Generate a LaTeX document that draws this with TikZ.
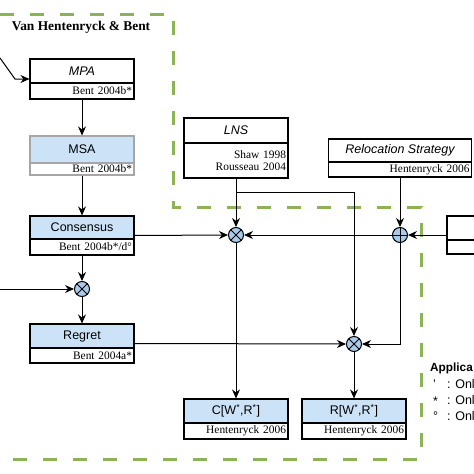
\documentclass[tikz,border=0pt]{standalone}
\usepackage{fontspec}
\setmainfont{Liberation Serif}
\setsansfont{Liberation Sans}
\usetikzlibrary{arrows.meta,calc}
\definecolor{grn}{RGB}{140,180,86}
\definecolor{lblue}{RGB}{204,227,247}
\definecolor{cblue}{RGB}{168,203,236}
\tikzset{
  boxtop/.style={draw, line width=1.1pt, inner sep=0pt, minimum width=104pt,
    font=\sffamily\fontsize{12.5}{14}\selectfont},
  bluetop/.style={boxtop, fill=lblue},
  boxbot/.style={draw, line width=1.1pt, inner sep=0pt, minimum width=104pt,
    text width=100pt, align=right, font=\fontsize{11.4}{13}\selectfont},
  grouper/.style={inner sep=0pt, minimum width=104pt},
  conn/.style={line width=1pt, -{Stealth[length=9pt,width=8pt]}},
  mul/.style={circle, draw, line width=1pt, fill=cblue, minimum size=15pt, inner sep=0pt,
    path picture={\draw[line width=0.9pt] (path picture bounding box.south west) -- (path picture bounding box.north east)
      (path picture bounding box.north west) -- (path picture bounding box.south east);}},
  add/.style={circle, draw, line width=1pt, fill=cblue, minimum size=15pt, inner sep=0pt,
    path picture={\draw[line width=0.9pt] (path picture bounding box.south) -- (path picture bounding box.north)
      (path picture bounding box.west) -- (path picture bounding box.east);}},
  region/.style={draw=grn, line width=3pt, dash pattern=on 14pt off 16pt},
  legend/.style={anchor=west, inner sep=0pt, font=\sffamily\fontsize{12.5}{14}\selectfont},
}
\begin{document}
\begin{tikzpicture}[x=1pt,y=-1pt]
\clip (0,0) rectangle (474,474);
\fill[white] (0,0) rectangle (474,474);

% green dashed region
\draw[region] (0,14) -- (173,14) -- (173,207) -- (421,207) -- (421,459) -- (0,459);
\node[font=\bfseries\fontsize{13.4}{15}\selectfont, inner sep=0pt] (title) at (81,27) {Van Hentenryck \& Bent};

% MPA
\node[boxtop, minimum height=24pt] (mpa) at (82,71) {\itshape MPA};
\node[boxbot, minimum height=16pt] (mpab) at (82,91) {Bent 2004b*};
% MSA
\node[boxtop, fill=lblue, draw=gray!70, minimum height=27pt] (msa) at (82,149.5) {MSA};
\node[boxbot, draw=gray!70, minimum height=12pt] (msab) at (82,169) {Bent 2004b*};
% Consensus
\node[bluetop, minimum height=23pt] (cons) at (82,227.5) {Consensus};
\node[boxbot, minimum height=16pt] (consb) at (82,247) {Bent 2004b*/d°};
\node[grouper, minimum height=39pt] (consg) at (82,235.5) {};
% Regret
\node[bluetop, minimum height=24pt] (reg) at (82,336) {Regret};
\node[boxbot, minimum height=15pt] (regb) at (82,355.5) {Bent 2004a*};
\node[grouper, minimum height=39pt] (regg) at (82,343.5) {};
% LNS
\node[boxtop, minimum height=25pt] (lns) at (236,130.5) {\itshape LNS};
\node[boxbot, minimum height=35pt, align=right] (lnsb) at (236,160.5) {Shaw 1998\\[-1pt]Rousseau 2004};
% Relocation Strategy
\node[boxtop, minimum width=143pt, minimum height=23pt] (rel) at (400,150.5) {\itshape Relocation Strategy};
\node[boxbot, minimum width=143pt, text width=139pt, minimum height=15pt] (relb) at (400,169.5) {Hentenryck 2006};
% partial right box
\node[boxtop, minimum width=80pt, minimum height=24pt] (rb) at (487,228) {};
\node[boxbot, minimum width=80pt, text width=76pt, minimum height=14pt] (rbb) at (487,247) {};
\node[grouper, minimum width=80pt, minimum height=38pt] (rbg) at (487,235) {};
% C and R boxes
\node[bluetop, minimum height=24pt] (cbox) at (236,411) {C[W\textsuperscript{*},R\textsuperscript{*}]};
\node[boxbot, minimum height=16pt] (cboxb) at (236,431) {Hentenryck 2006};
\node[bluetop, minimum height=24pt] (rbox) at (354,411) {R[W\textsuperscript{*},R\textsuperscript{*}]};
\node[boxbot, minimum height=16pt] (rboxb) at (354,431) {Hentenryck 2006};

% operators
\node[mul] (x1) at (82,289) {};
\node[mul] (x2) at (236,235) {};
\node[mul] (x3) at (354,344) {};
\node[add] (p1) at (400,235) {};

% connectors
\coordinate (in1) at (0,58);
\coordinate (in1k) at (15,79);
\coordinate (in2) at (0,289);
\coordinate (br) at (236,192);
\draw[conn] (in1) -- (in1k) -- (in1k -| mpa.west);
\draw[conn] (mpab.south) -- (msa.north);
\draw[conn] (msab.south) -- (cons.north);
\draw[conn] (consb.south) -- (x1.north);
\draw[conn] (in2) -- (x1.west);
\draw[conn] (x1.south) -- (reg.north);
\draw[conn] (consg.east) -- (x2.west);
\draw[conn] (lnsb.south) -- (x2.north);
\draw[conn] (br) -- (br -| x3) -- (x3.north);
\draw[conn] (relb.south) -- (p1.north);
\draw[conn] (rbg.west) -- (p1.east);
\draw[conn] (p1.west) -- (x2.east);
\draw[conn] (x2.south) -- (cbox.north);
\draw[conn] (p1.south) -- (p1 |- x3) -- (x3.east);
\draw[conn] (regg.east) -- (x3.west);
\draw[conn] (x3.south) -- (rbox.north);

% legend
\node[legend, font=\sffamily\bfseries\fontsize{11.8}{14}\selectfont] (lgt) at (430,368) {Applica};
\node[legend] (l1s) at (433,384) {'};
\node[legend] (l1) at (447,384) {: Onl};
\node[legend] (l2s) at (433,401) {*};
\node[legend] (l2) at (447,400) {: Onl};
\node[legend] (l3s) at (433,416) {°};
\node[legend] (l3) at (447,416) {: Onl};
\end{tikzpicture}
\end{document}
